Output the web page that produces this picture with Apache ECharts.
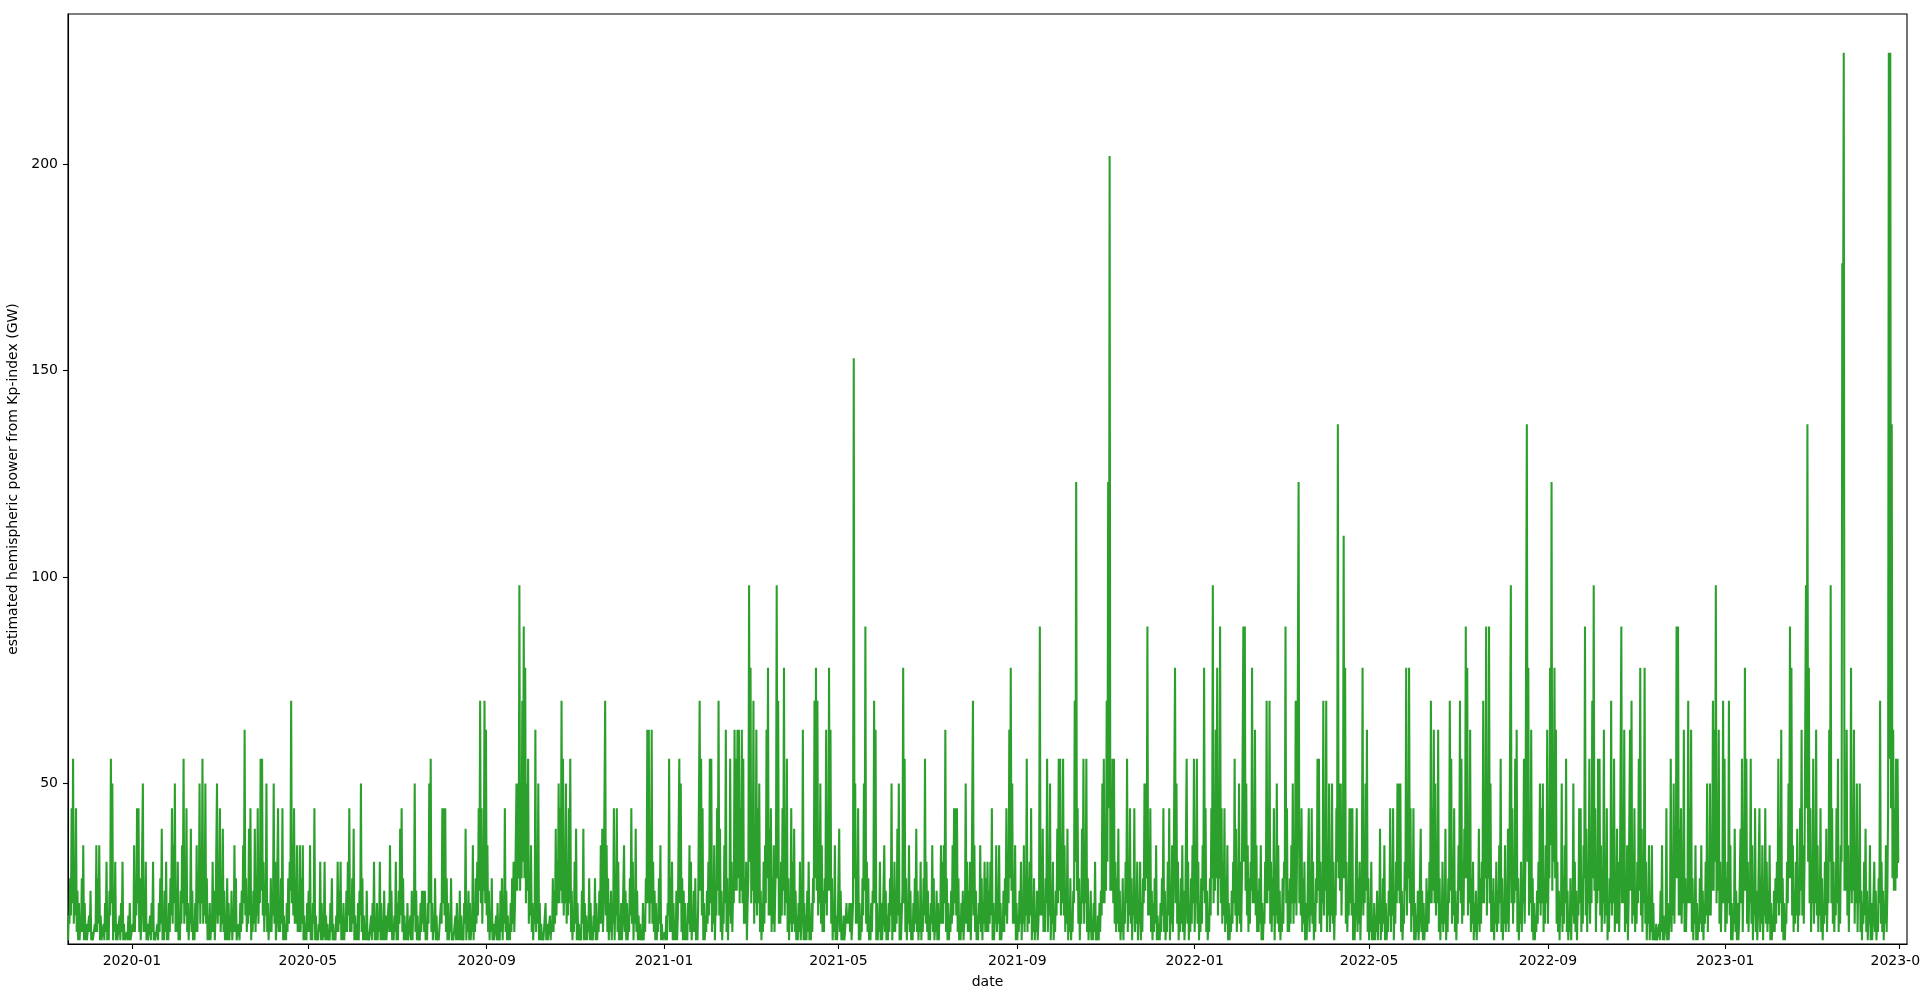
<!DOCTYPE html>
<html>
<head>
<meta charset="utf-8">
<script src="https://cdn.jsdelivr.net/npm/echarts@6/dist/echarts.min.js"></script>
<style>
html,body{margin:0;padding:0;background:#fff;}
#chart{width:1920px;height:1003px;}
</style>
</head>
<body>
<div id="chart"></div>
<script>
// first day of the record; one daily low and one daily high reading follow per day
const startDate = '2019-11-18';

// daily HIGH of estimated hemispheric power (GW)
const hpMaxSegment1 = [
18,27,44,56,31,44,24,21,16,27,
35,21,16,12,18,24,14,12,16,35,
27,35,18,12,16,21,31,18,24,56,
50,21,31,16,12,18,21,31,16,12,
14,18,21,12,16,35,24,44,44,27,
18,50,24,31,16,12,18,21,31,14,
12,16,21,27,39,18,24,31,16,21,
27,44,35,50,21,31,16,24,35,56,
27,44,21,18,39,24,16,21,35,27,
50,31,56,24,50,27,18,21,16,31,
24,18,50,31,44,21,39,24,16,27,
21,18,24,16,35,27,12,16,21,24,
35,63,27,21,39,44,18,24,39,21,
44,27,56,56,31,24,50,21,18,27,
24,50,31,16,44,21,27,44,18,16,
21,27,31,70,35,44,24,35,21,35,
27,35,18,16,21,24,35,16,21,44,
18,14,16,31,21,12,31,18,16,14,
21,27,16,14,18,31,24,31,18,21,
16,24,31,44,21,27,39,18,16,21,
24,50,27,18,16,24,14,12,18,21,
31,16,21
];
const hpMaxSegment2 = [
18,31,21,16,24,18,12,
21,35,24,16,18,31,21,24,39,44,
27,18,16,21,12,18,24,21,50,24,
18,14,21,24,24,24,16,21,50,56,
21,16,27,18,14,12,21,44,44,44,
27,21,16,27,14,12,18,21,16,24,
18,14,21,39,18,24,21,16,35,21,
27,31,44,70,44,31,70,63,35,24,
18,27,16,12,18,21,14,24,27,21,
44,24,18,16,21,27,31,21,50,50,
98,44,70,88,78,50,56,27,35,21,
18,63,24,50,21,16,14,12,21,16,
12,18,16,27,24,39,31,50,44,70,
56,31,50,27,44,56,24,18,31,39,
21,16,14,24,39,21,18,16,27,21,
14,18,27,21,16,24,35,39,21,70,
35,27,21,24,18,44,21,44,31,18,
21,16,35,24,21,18,27,44,31,21,
39,24,18,16,14,21,18,27,63,63,
31,63,31,24,21,18,27,35,16,12,
14,18,21,56,27,31,21,16,24,18,
56,50,27,24,21,16
];
const hpMaxSegment3 = [
21,35,31,18,
24,27,16,21,70,56,44,21,18,24,
31,56,56,27,35,21,44,70,39,24,
18,35,63,27,21,56,31,24,63,56,
63,63,44,63,56,27,31,21,98,78,
39,70,27,63,44,50,24,21,31,35,
63,78,39,44,27,35,24,98,70,27,
31,44,78,39,56,27,21,44,31,39,
24,18,21,31,16,63,21,18,24,31,
18,21,27,70,78,70,31,50,35,24,
27,63,39,78,63,27,21,35,18,16,
39,24,16,18,14,21,18,21,21,16,
153,50,24,44,21,16,27,50,88,31,
27,18,21,24,70,63,21,18,31,21,
16,35,24,18,21,27,50,21,31,24,
39,50,21,18,78,56,27,21,35,24,
16,21,27,39,24,18,31,21,27,56,
31,24,18,21,35,27,16,24,21,18,
35,31,35,63,27,21,18,24,35,44,
44,44,27,18,21,24,16,50,31,24,
31,21,70,35,24,18,21,35,27,21,
31,27,31,24,31,44,21,18,35,24
];
const hpMaxSegment4 = [
35,21,16,24,27,44,31,63,78,50,
27,35,21,18,24,31,21,35,24,56,
27,31,44,21,27,18,24,16,88,31,
39,21,27,56,24,50,21,31,18,24,
39,56,56,35,56,35,24,39,21,27,
18,24,70,123,44,27,21,39,56,31,
56,27,18,24,16,21,31,14,18,21,
24,50,56,35,70,123,202,44,56,56,
31,27,39,24,18,27,21,31,56,24,
44,27,21,44,24,31,18,31,21,27,
50,50,88,31,44,24,21,27,35,18,
16,21,27,44,24,18,31,44,21,35,
24,78,50,31,21,27,35,24,18,56,
31,21,27,35,56,24,56,31,21,27,
35,78,44,24,18,27,44,98,39,63,
78,35,88,44,31,44,27,35,21,18,
24,31,56,39,24,50,31,27,88,88,
50,35,27,31,78,44,63,35,24,27,
35,21,18,31,70,44,70,31,27,44,
21,50,35,24,18,27,31,88,44,24,
27,35,50,31,70,35,123,39,44,27,
31,21,18
];
const hpMaxSegment5 = [
44,24,44,31,21,27,56,
56,31,24,70,35,70,27,50,24,50,
31,21,44,137,50,50,31,110,78,31,
24,44,44,44,21,18,44,27,31,21,
78,35,50,63,27,21,31,16,21,18,
24,21,39,18,27,35,21,16,24,44,
27,44,21,31,50,50,50,24,18,31,
78,35,78,44,24,44,21,18,24,16,
39,24,21,18,27,24,31,70,44,63,
50,35,63,27,21,31,24,39,21,27,
70,56,31,44,24,21,35,70,56,31,
39,88,78,35,63,27,31,21,24,18,
39,27,31,70,44,88,35,88,50,24,
27,21,31,24,35,56,27,21,35,24,
39,27,98,44,31,56,63,27,21,31,
24,56,31,137,78,35,63,27,21,18,
24,31,50,44,50,27,35,63,31,78,
123,44,78,63,31,24,21,50,27,35,
56,24,18,27,21,50,31,24,21,44,
44,27,35,88,39,24,56,31,70,98,
44,27,56,56,35,24,63,31,44,21,
27,70,39,56,24,39
];
const hpMaxSegment6 = [
31,24,88,44,
63,27,35,21,63,70,31,44,24,31,
56,78,39,27,78,31,21,35,18,35,
21,14,16,12,16,24,35,18,14,44,
21,16,56,27,50,35,88,88,39,44,
31,63,27,24,70,44,63,27,21,35,
21,18,27,35,24,21,31,50,27,50,
35,70,63,98,44,63,31,24,70,56,
27,31,70,35,21,18,39,24,21,16,
39,56,27,78,56,31,24,56,35,21,
44,24,18,44,27,35,21,44,31,24,
35,21,18,24,27,31,56,39,63,27,
21,18,31,50,88,78,35,24,31,39,
27,44,63,35,31,98,137,78,44,27,
56,31,63,35,24,44,27,21,31,39,
27,63,98,44,31,24,44,56,27,35,
176,227,44,63,35,27,78,44,63,31,
50,27,50,24,21,31,39,24,18,35,
21,16,31,24,18,27,70,31,24,21,
35,24,227,227,137,63,44,56,56,31
];

// daily LOW of estimated hemispheric power (GW)
const hpMinSegment1 = [
12,16,18,21,16,18,14,12,12,14,
14,12,12,12,12,14,12,12,12,14,
14,16,12,12,12,12,14,12,12,18,
21,12,14,12,12,12,12,14,12,12,
12,12,12,12,12,14,14,18,21,14,
12,18,14,14,12,12,12,12,14,12,
12,12,12,14,16,12,12,14,12,12,
14,18,16,21,14,14,12,12,16,21,
16,18,14,12,16,14,12,12,14,14,
21,16,21,16,18,16,12,12,12,14,
14,12,18,16,18,14,16,14,12,12,
12,12,14,12,14,14,12,12,12,14,
16,21,18,14,16,18,12,14,16,14,
18,16,21,24,18,14,18,14,12,14,
14,18,16,12,16,14,14,16,12,12,
12,14,16,24,21,18,16,16,14,14,
14,16,12,12,12,14,14,12,12,16,
12,12,12,14,12,12,14,12,12,12,
12,14,12,12,12,14,14,16,12,12,
12,14,14,18,14,14,16,12,12,12,
12,18,14,12,12,12,12,12,12,12,
14,12,12
];
const hpMinSegment2 = [
12,14,12,12,12,12,12,
12,14,14,12,12,14,12,12,16,18,
14,12,12,12,12,12,12,12,18,14,
12,12,12,14,16,14,12,12,16,21,
14,12,14,12,12,12,12,16,21,18,
14,12,12,14,12,12,12,12,12,12,
12,12,12,16,12,14,12,12,14,12,
14,16,18,24,21,16,24,21,18,14,
12,14,12,12,12,12,12,12,14,12,
16,14,12,12,12,14,16,14,21,24,
27,24,27,31,27,21,24,16,18,14,
12,16,14,16,12,12,12,12,12,12,
12,12,12,14,14,16,18,21,21,24,
21,18,21,16,18,21,14,12,14,16,
12,12,12,12,16,12,12,12,14,12,
12,12,14,12,12,14,16,16,14,21,
18,14,12,14,12,16,12,18,14,12,
12,12,16,14,12,12,14,18,16,12,
16,14,12,12,12,12,12,14,21,21,
16,21,16,14,12,12,14,16,12,12,
12,12,12,18,14,14,12,12,12,12,
18,21,14,12,12,12
];
const hpMinSegment3 = [
12,16,14,12,
14,14,12,12,21,24,18,12,12,14,
16,18,21,14,16,12,18,24,18,14,
12,16,21,14,12,18,16,14,21,24,
24,27,21,24,21,16,16,12,27,31,
21,24,16,21,18,21,14,12,14,16,
21,27,18,18,14,16,14,31,27,16,
16,18,24,18,21,14,12,16,14,16,
14,12,12,14,12,18,12,12,12,14,
12,12,14,21,27,24,18,21,16,14,
14,21,18,24,24,16,12,14,12,12,
16,14,12,12,12,14,16,16,14,12,
21,27,16,16,12,12,14,18,24,16,
14,12,12,14,21,21,12,12,14,12,
12,16,14,12,12,14,18,12,14,14,
16,18,12,12,24,21,14,12,16,14,
12,12,14,16,14,12,14,12,14,18,
16,14,12,12,16,14,12,14,12,12,
16,16,16,21,14,12,12,14,16,18,
21,18,14,12,12,14,12,18,16,14,
14,12,21,18,14,12,12,16,14,12,
16,14,14,14,16,18,12,12,16,14
];
const hpMinSegment4 = [
16,12,12,14,14,18,16,21,27,24,
16,16,12,12,14,16,12,16,14,18,
14,16,18,12,14,12,14,12,24,18,
18,14,14,21,14,18,12,16,12,14,
18,21,24,18,21,18,14,16,12,14,
12,14,21,31,24,16,12,16,21,16,
21,14,12,14,12,12,14,12,12,12,
14,18,21,21,24,31,44,24,24,21,
16,14,16,14,12,14,12,16,21,14,
18,16,12,18,14,16,12,16,12,14,
21,24,27,18,18,14,12,14,16,12,
12,12,14,18,14,12,14,18,12,16,
14,24,21,16,12,14,16,14,12,18,
16,12,14,16,21,14,21,16,12,14,
16,24,21,14,12,14,18,27,21,24,
27,18,27,21,16,18,14,16,12,12,
14,16,21,18,14,18,16,14,27,31,
24,18,14,16,24,21,21,18,14,14,
16,12,12,16,21,21,24,16,14,18,
12,18,16,14,12,14,16,27,21,14,
14,16,21,16,21,18,35,21,18,14,
16,12,12
];
const hpMinSegment5 = [
18,14,18,16,12,14,21,
24,16,14,21,18,24,14,18,14,18,
16,12,18,31,27,24,18,27,27,16,
14,18,21,18,12,12,18,14,16,12,
24,18,21,24,14,12,14,12,12,12,
14,12,16,12,14,16,12,12,14,18,
14,18,12,16,21,24,21,14,12,16,
24,18,27,21,14,18,12,12,14,12,
16,14,12,12,14,14,16,21,21,24,
21,18,21,14,12,16,14,16,12,14,
21,24,16,18,14,12,16,24,21,16,
18,27,27,18,21,14,16,12,14,12,
16,14,16,21,21,27,18,27,21,14,
14,12,16,14,16,21,14,12,16,14,
16,14,27,21,16,21,24,14,12,16,
14,21,16,31,31,18,21,14,12,12,
14,16,21,18,21,14,16,21,16,27,
35,24,31,27,16,14,12,18,14,16,
21,14,12,14,12,18,16,14,12,18,
21,14,16,27,18,14,21,16,21,27,
24,14,21,24,18,14,21,16,18,12,
14,21,18,21,14,16
];
const hpMinSegment6 = [
16,14,24,21,
21,14,16,12,21,24,16,18,14,16,
21,24,18,14,21,16,12,16,12,14,
12,12,12,12,12,12,14,12,12,16,
12,12,18,14,18,16,27,27,18,18,
16,21,14,14,21,21,21,14,12,16,
12,12,14,16,14,12,16,18,14,18,
18,24,24,31,21,24,16,14,21,21,
14,16,21,18,12,12,16,14,12,12,
16,21,14,24,24,16,14,21,16,12,
18,14,12,18,14,16,12,18,16,14,
16,12,12,14,14,16,21,18,21,14,
12,12,16,21,27,27,18,14,16,18,
14,18,24,18,16,31,44,31,21,14,
21,16,21,18,14,18,14,12,16,18,
14,21,31,21,16,14,18,21,14,16,
31,153,24,24,18,14,24,21,24,16,
21,14,21,14,12,16,18,14,12,16,
12,12,16,14,12,14,21,16,14,12,
16,14,44,56,44,27,24,24,27,31
];

// axis range and tick labels
const xRange = ['2019-11-18', '2023-05-06'];
const xTickLabels = ['2020-01','2020-05','2020-09','2021-01','2021-05','2021-09','2022-01','2022-05','2022-09','2023-01','2023-05'];
const yRange = [11.1, 236.4];
const yTickLabels = [50, 100, 150, 200];

const dailyMax = [].concat(hpMaxSegment1, hpMaxSegment2, hpMaxSegment3, hpMaxSegment4, hpMaxSegment5, hpMaxSegment6);
const dailyMin = [].concat(hpMinSegment1, hpMinSegment2, hpMinSegment3, hpMinSegment4, hpMinSegment5, hpMinSegment6);
function utc(s) { const p = s.split('-').map(Number); return Date.UTC(p[0], p[1] - 1, p[2] || 1); }
const t0 = utc(startDate);
const DAY = 86400000;
const seriesData = [];
dailyMax.forEach(function (hi, i) {
  seriesData.push([t0 + i * DAY, dailyMin[i]]);
  seriesData.push([t0 + (i + 0.5) * DAY, hi]);
});
const xTicks = xTickLabels.map(utc);

function pad(n) { return n < 10 ? '0' + n : '' + n; }

const chart = echarts.init(document.getElementById('chart'), null, {renderer: 'canvas'});
const font = 'DejaVu Sans';
chart.setOption({
  animation: false,
  backgroundColor: '#ffffff',
  grid: {
    left: 68, right: 13, top: 14, bottom: 59,
    show: true, borderColor: '#000', borderWidth: 1.1,
    containLabel: false, outerBoundsMode: 'none'
  },
  xAxis: {
    type: 'value',
    min: utc(xRange[0]), max: utc(xRange[1]),
    name: 'date', nameLocation: 'middle', nameGap: 31,
    nameTextStyle: {fontFamily: font, fontSize: 14, color: '#000'},
    axisLine: {show: true, lineStyle: {color: '#000', width: 1.1}},
    axisTick: {show: true, length: 5, lineStyle: {color: '#000', width: 1.1}, customValues: xTicks},
    axisLabel: {
      fontFamily: font, fontSize: 14, color: '#000', margin: 10,
      customValues: xTicks,
      formatter: function (v) { const d = new Date(v); return d.getUTCFullYear() + '-' + pad(d.getUTCMonth() + 1); }
    },
    splitLine: {show: false}
  },
  yAxis: {
    type: 'value',
    min: yRange[0], max: yRange[1],
    name: 'estimated hemispheric power from Kp-index (GW)',
    nameLocation: 'middle', nameRotate: 90, nameGap: 34,
    nameTextStyle: {fontFamily: font, fontSize: 14, color: '#000'},
    axisLine: {show: true, lineStyle: {color: '#000', width: 1.1}},
    axisTick: {show: true, length: 5, lineStyle: {color: '#000', width: 1.1}, customValues: yTickLabels},
    axisLabel: {fontFamily: font, fontSize: 14, color: '#000', margin: 10, customValues: yTickLabels},
    splitLine: {show: false}
  },
  series: [{
    type: 'line',
    data: seriesData,
    showSymbol: false,
    sampling: null,
    lineStyle: {color: '#2ca02c', width: 2.08},
    itemStyle: {color: '#2ca02c'}
  }]
});
</script>
</body>
</html>
